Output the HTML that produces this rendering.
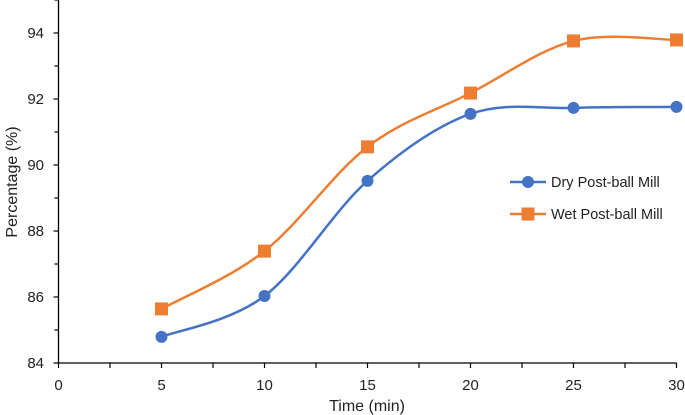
<!DOCTYPE html>
<html><head><meta charset="utf-8"><style>
body{margin:0;background:#fff}
svg{display:block;font-family:"Liberation Sans",sans-serif}
</style></head><body>
<svg id="chart" width="685" height="415"></svg>
<script>
const times=[5,10,15,20,25,30];
const dryValues=[84.79,86.03,89.52,91.55,91.73,91.76];
const wetValues=[85.64,87.39,90.55,92.18,93.76,93.79];
const xTicks=[0,5,10,15,20,25,30];
const yTicks=[84,86,88,90,92,94];
const NS='http://www.w3.org/2000/svg';
const svg=document.getElementById('chart');
const x0=58.5,x1=676.5,y0=363,yTop=0;
const xs=v=>x0+(v-0)/30*(x1-x0);
const ys=v=>y0-(v-84)/11*(y0-yTop);
function mk(t,a,p){const e=document.createElementNS(NS,t);for(const k in a)e.setAttribute(k,a[k]);(p||svg).appendChild(e);return e;}
const ax=mk('line',{x1:x0,y1:0,x2:x0,y2:y0,stroke:'#000','stroke-width':1.3});


const bx=mk('line',{x1:x0,y1:y0,x2:x1,y2:y0,stroke:'#000','stroke-width':1.3});


for(let v=84;v<=95;v++){mk('line',{x1:x0-(v%2===0?5:4),y1:ys(v),x2:x0,y2:ys(v),stroke:'#000','stroke-width':1.2});}
for(let v=0;v<=30;v+=2.5){mk('line',{x1:xs(v),y1:y0,x2:xs(v),y2:y0+5,stroke:'#000','stroke-width':1.2});}
yTicks.forEach(v=>{const t=mk('text',{x:44,y:ys(v)+5,'text-anchor':'end','font-size':15,fill:'#222'});t.textContent=v;

});
xTicks.forEach(v=>{const t=mk('text',{x:xs(v),y:390,'text-anchor':'middle','font-size':15,fill:'#222'});t.textContent=v;

});
const xt=mk('text',{x:367,y:411,'text-anchor':'middle','font-size':16,fill:'#222'});xt.textContent='Time (min)';


const yt=mk('text',{x:0,y:0,'text-anchor':'middle','font-size':16,fill:'#222',transform:'translate(17,182) rotate(-90)'});yt.textContent='Percentage (%)';


function smooth(pts){let d=`M${pts[0][0]},${pts[0][1]}`;for(let i=0;i<pts.length-1;i++){const p0=pts[i-1]||pts[i],p1=pts[i],p2=pts[i+1],p3=pts[i+2]||p2;const c1=[p1[0]+(p2[0]-p0[0])/6,p1[1]+(p2[1]-p0[1])/6],c2=[p2[0]-(p3[0]-p1[0])/6,p2[1]-(p3[1]-p1[1])/6];d+=` C${c1[0]},${c1[1]} ${c2[0]},${c2[1]} ${p2[0]},${p2[1]}`;}return d;}
function series(vals,color,shape,name){
 const pts=times.map((t,i)=>[xs(t),ys(vals[i])]);
 const p=mk('path',{d:smooth(pts),fill:'none',stroke:color,'stroke-width':2.5});
 
 
 pts.forEach(q=>{let m;if(shape==='c')m=mk('circle',{cx:q[0],cy:q[1],r:6,fill:color});else m=mk('rect',{x:q[0]-6.5,y:q[1]-6.5,width:13,height:13,fill:color});
 
 });
}
series(dryValues,'#4472C4','c','dry');
series(wetValues,'#ED7D31','s','wet');
const legend=[['Dry Post-ball Mill','#4472C4','c',182],['Wet Post-ball Mill','#ED7D31','s',214]];
legend.forEach(l=>{const g=mk('g',{});
 mk('line',{x1:510,y1:l[3],x2:546,y2:l[3],stroke:l[1],'stroke-width':2.5},g);
 if(l[2]==='c')mk('circle',{cx:528,cy:l[3],r:6,fill:l[1]},g);else mk('rect',{x:521.5,y:l[3]-6.5,width:13,height:13,fill:l[1]},g);
 const t=mk('text',{x:551,y:l[3]+5,'font-size':14.5,fill:'#222'},g);t.textContent=l[0];});
</script>
</body></html>
